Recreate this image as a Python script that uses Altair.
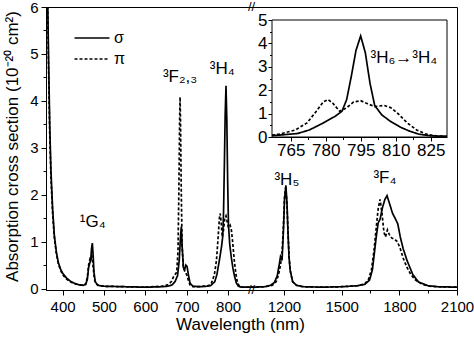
import altair as alt
import pandas as pd

FONT = "Liberation Sans"

# ---- spectra ----
sigma_nm = [360, 363, 366, 369, 372, 376, 380, 385, 390, 395, 400, 410, 420, 430, 440, 450, 456, 460, 463, 466, 468, 470, 472, 474, 476, 479, 485, 500, 550, 600, 640, 655, 665, 672, 678, 682, 685, 687, 689, 692, 695, 698, 701, 704, 708, 715, 730, 750, 757, 760, 768, 773, 778, 784, 787, 789, 791, 793, 795, 797, 799, 801, 804, 808, 812, 816, 820, 825, 832, 853,
            1040, 1100, 1130, 1150, 1165, 1175, 1182, 1190, 1197, 1203, 1210, 1216, 1221, 1226, 1232, 1245, 1265, 1300, 1400, 1500, 1580, 1620, 1645, 1660, 1670, 1680, 1690, 1700, 1712, 1725, 1736, 1750, 1765, 1778, 1792, 1805, 1820, 1840, 1870, 1900, 1950, 2000, 2100]
sigma_val = [9.0, 6.8, 5.0, 3.5, 2.5, 1.7, 1.15, 0.78, 0.55, 0.42, 0.33, 0.22, 0.15, 0.11, 0.08, 0.07, 0.09, 0.2, 0.45, 0.55, 0.6, 0.85, 0.97, 0.7, 0.35, 0.15, 0.07, 0.05, 0.04, 0.03, 0.04, 0.05, 0.08, 0.15, 0.28, 0.6, 1.1, 1.32, 0.9, 0.45, 0.4, 0.5, 0.47, 0.3, 0.12, 0.05, 0.04, 0.05, 0.06, 0.08, 0.15, 0.3, 0.55, 0.88, 1.1, 1.6, 2.6, 3.7, 4.32, 3.6, 2.3, 1.35, 0.95, 0.65, 0.42, 0.25, 0.12, 0.05, 0.03, 0.03,
             0.03, 0.04, 0.07, 0.13, 0.27, 0.5, 0.68, 0.6, 1.2, 1.9, 2.2, 1.8, 1.2, 0.7, 0.4, 0.15, 0.07, 0.04, 0.03, 0.04, 0.06, 0.09, 0.18, 0.4, 0.75, 1.1, 1.4, 1.48, 1.72, 1.9, 1.98, 1.8, 1.6, 1.5, 1.38, 1.1, 0.85, 0.6, 0.3, 0.14, 0.06, 0.04, 0.03]

pi_nm = [360, 363, 366, 369, 372, 376, 380, 385, 390, 395, 400, 410, 420, 430, 440, 450, 456, 460, 463, 466, 468, 470, 472, 474, 477, 480, 490, 500, 550, 600, 640, 655, 663, 668, 672, 676, 679, 681, 683, 684, 685, 687, 689, 692, 696, 700, 704, 708, 715, 730, 750, 757, 760, 767, 772, 776, 779, 781, 783, 786, 789, 792, 795, 798, 801, 805, 808, 811, 815, 819, 823, 828, 832, 853,
         1040, 1100, 1140, 1160, 1172, 1182, 1190, 1197, 1203, 1209, 1215, 1221, 1227, 1234, 1245, 1265, 1300, 1400, 1500, 1580, 1620, 1640, 1655, 1668, 1680, 1690, 1700, 1710, 1720, 1728, 1738, 1748, 1760, 1775, 1790, 1805, 1820, 1840, 1860, 1885, 1920, 1960, 2000, 2100]
pi_val = [9.0, 6.6, 4.8, 3.3, 2.35, 1.6, 1.1, 0.75, 0.52, 0.4, 0.3, 0.2, 0.14, 0.1, 0.08, 0.07, 0.1, 0.25, 0.5, 0.62, 0.58, 0.72, 0.65, 0.45, 0.2, 0.1, 0.06, 0.05, 0.04, 0.03, 0.05, 0.08, 0.15, 0.25, 0.3, 0.35, 0.8, 2.0, 3.6, 4.08, 3.6, 2.0, 0.9, 0.45, 0.35, 0.3, 0.18, 0.08, 0.04, 0.04, 0.06, 0.08, 0.12, 0.3, 0.6, 1.1, 1.5, 1.6, 1.45, 1.1, 1.25, 1.5, 1.55, 1.42, 1.3, 1.35, 1.25, 1.0, 0.6, 0.3, 0.12, 0.04, 0.03, 0.03,
          0.03, 0.04, 0.07, 0.15, 0.3, 0.5, 0.75, 1.3, 1.95, 2.15, 1.85, 1.2, 0.65, 0.35, 0.15, 0.07, 0.04, 0.03, 0.04, 0.06, 0.1, 0.2, 0.4, 0.8, 1.3, 1.7, 1.9, 1.6, 1.2, 1.1, 1.25, 1.15, 1.08, 1.05, 1.0, 0.85, 0.65, 0.45, 0.3, 0.18, 0.09, 0.05, 0.04, 0.03]

series_names = ["σ", "π"]

# ---- axes ----
x_domain = [360, 853, 1039, 2100]
x_major = [400, 500, 600, 700, 800, 1200, 1500, 1800, 2100]
x_minor = [450, 550, 650, 750, 1350, 1650, 1950]
y_domain = [-0.03, 6]
y_ticks = [i * 0.5 for i in range(13)]
break_nm = [946]

inset_x_domain = [757, 832]
inset_x_ticks = [765 + 7.5 * i for i in range(9)]
inset_y_domain = [0, 5]
inset_y_ticks = [i * 0.5 for i in range(11)]

# ---- annotations ----
label_text = ["¹G₄", "³F₂,₃", "³H₄", "³H₅", "³F₄"]
label_nm = [473, 684, 786, 1215, 1725]
label_val = [1.32, 4.40, 4.57, 2.21, 2.26]
inset_label_text = ["³H₆→³H₄"]
inset_label_nm = [813.5]
inset_label_val = [3.16]

# ---- data tables ----
df = pd.concat([
    pd.DataFrame({"nm": sigma_nm, "val": sigma_val, "series": series_names[0]}),
    pd.DataFrame({"nm": pi_nm, "val": pi_val, "series": series_names[1]}),
], ignore_index=True)
df_in = df[(df.nm >= inset_x_domain[0]) & (df.nm <= inset_x_domain[1])]

W, H = 411, 283
IX0, IX1, IY0, IY1 = 226, 401, 130, 13

xscale = alt.Scale(domain=x_domain, range=[0, 204, 207, W], nice=False, zero=False)
yscale = alt.Scale(domain=y_domain, nice=False, zero=False)
dash_scale = alt.Scale(domain=series_names, range=[[1, 0], [3, 2]])

major_test = "indexof(%s, datum.value) >= 0" % str(x_major)
xaxis = alt.Axis(
    values=sorted(x_major + x_minor), tickCount=100,
    labelExpr=f"{major_test} ? ('' + datum.value) : ''",
    tickSize={"condition": {"test": major_test, "value": 5}, "value": 3},
    title="Wavelength (nm)", titleX=194, titleY=39, titleBaseline="alphabetic", titleAlign="center",
    labelFlush=False, labelOverlap=False, labelPadding=4, grid=False,
)
yaxis = alt.Axis(
    values=y_ticks, tickCount=100,
    labelExpr="datum.value % 1 === 0 ? ('' + datum.value) : ''",
    tickSize={"condition": {"test": "datum.value % 1 === 0", "value": 5}, "value": 3},
    title="Absorption cross section (10⁻²⁰ cm²)", titleX=-29, titleY=139,
    titleBaseline="alphabetic", titleAlign="center", titleAngle=-90,
    labelOverlap=False, labelPadding=3, grid=False,
)

lines = alt.Chart(df).mark_line(clip=True, color="black", strokeWidth=1.7).encode(
    x=alt.X("nm:Q", scale=xscale, axis=xaxis),
    y=alt.Y("val:Q", scale=yscale, axis=yaxis),
    strokeDash=alt.StrokeDash("series:N", scale=dash_scale, legend=alt.Legend(
        title=None, orient="none", legendX=38, legendY=23, symbolType="M-3,0H3",
        symbolSize=136, symbolStrokeWidth=1.6, symbolStrokeColor="black",
        labelFontSize=16, labelFont=FONT, rowPadding=5, labelOffset=14)),
    detail="series:N",
)

breaks = alt.Chart(pd.DataFrame({"nm": break_nm * 2, "val": [y_domain[0], y_domain[1]]})).mark_text(
    text="//", fontSize=13, font=FONT, color="black").encode(
    x=alt.X("nm:Q", scale=xscale), y=alt.Y("val:Q", scale=yscale))

labels = alt.Chart(pd.DataFrame({"nm": label_nm, "val": label_val, "t": label_text})).mark_text(
    fontSize=17, font=FONT, color="black", baseline="alphabetic", align="center").encode(
    x=alt.X("nm:Q", scale=xscale), y=alt.Y("val:Q", scale=yscale), text="t:N")

main = alt.layer(lines, breaks, labels)

ixscale = alt.Scale(domain=inset_x_domain, range=[IX0, IX1], nice=False, zero=False)
iyscale = alt.Scale(domain=inset_y_domain, range=[IY0, IY1], nice=False, zero=False)
ix_axis = alt.Axis(
    orient="bottom", offset=-(H - IY0), values=inset_x_ticks, tickCount=100, title=None,
    labelExpr="(datum.value - 765) % 15 === 0 ? ('' + datum.value) : ''",
    tickSize={"condition": {"test": "(datum.value - 765) % 15 === 0", "value": 4}, "value": 2.5},
    labelFontSize=17, labelPadding=1, labelFlush=False, labelOverlap=False, grid=False,
)
iy_axis = alt.Axis(
    orient="left", offset=-IX0, values=inset_y_ticks, tickCount=100, title=None,
    labelExpr="datum.value % 1 === 0 ? ('' + datum.value) : ''",
    tickSize={"condition": {"test": "datum.value % 1 === 0", "value": 4}, "value": 2.5},
    labelFontSize=17, labelPadding=1, labelOverlap=False, grid=False,
)
frame = alt.Chart(pd.DataFrame({"x": [inset_x_domain[0]], "x2": [inset_x_domain[1]],
                                "y": [inset_y_domain[0]], "y2": [inset_y_domain[1]]})).mark_rect(
    fill="white", stroke="black", strokeWidth=1).encode(
    x=alt.X("x:Q", scale=ixscale, axis=ix_axis), x2="x2:Q",
    y=alt.Y("y:Q", scale=iyscale, axis=iy_axis), y2="y2:Q")
inset_lines = alt.Chart(df_in).mark_line(color="black", strokeWidth=1.7).encode(
    x=alt.X("nm:Q", scale=ixscale), y=alt.Y("val:Q", scale=iyscale),
    strokeDash=alt.StrokeDash("series:N", scale=dash_scale, legend=None),
    detail="series:N",
)
inset_label = alt.Chart(pd.DataFrame({"nm": inset_label_nm, "val": inset_label_val, "t": inset_label_text})).mark_text(
    fontSize=17, font=FONT, color="black", baseline="alphabetic", align="center").encode(
    x=alt.X("nm:Q", scale=ixscale), y=alt.Y("val:Q", scale=iyscale), text="t:N")
inset = alt.layer(frame, inset_lines, inset_label)

chart = alt.layer(main, inset).resolve_scale(
    x="independent", y="independent", strokeDash="independent"
).properties(
    width=W, height=H,
    autosize=alt.AutoSizeParams(type="none"),
    padding={"left": 46, "top": 7, "right": 17, "bottom": 48},
    background="white",
).configure_view(stroke="black", strokeWidth=1).configure_axis(
    domainColor="black", tickColor="black", labelColor="black", titleColor="black",
    labelFont=FONT, titleFont=FONT, labelFontSize=15, titleFontSize=17, titleFontWeight="normal",
    domainWidth=1, tickWidth=1,
)

chart.save("out.html", embed_options={"renderer": "svg", "actions": False})
